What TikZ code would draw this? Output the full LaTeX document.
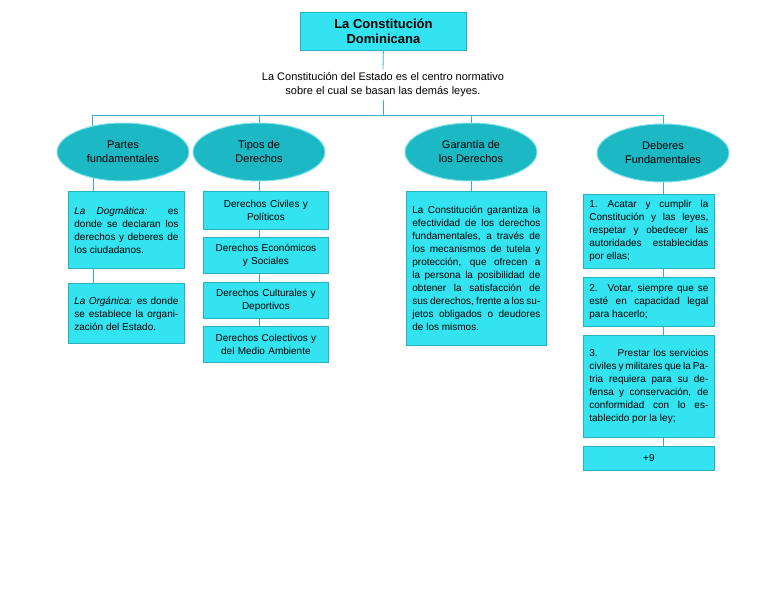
\documentclass[tikz,border=0pt]{standalone}
\usepackage{fontspec}
\setmainfont{Liberation Sans}
\begin{document}
\begin{tikzpicture}[x=1pt,y=-1pt,
  ln/.style={draw=lnc,line width=0.8pt},
  ell/.style={ellipse,fill=ellc,draw=ellb,line width=1pt,minimum width=132pt,minimum height=58pt,align=center,font=\fontsize{11}{14}\selectfont,inner sep=0pt},
  bx/.style={rectangle,fill=boxc,draw=boxb,line width=0.8pt,anchor=north west,inner sep=6pt,font=\fontsize{10}{13}\selectfont},
  bj/.style={bx,align=justify},
  bc/.style={bx,align=center}]
\definecolor{ellc}{HTML}{1CB8C4}
\definecolor{ellb}{HTML}{7FE3EA}
\definecolor{boxc}{HTML}{33E3EF}
\definecolor{boxb}{HTML}{2AAFBF}
\definecolor{lnc}{HTML}{33B5C0}
\usetikzlibrary{shapes.geometric}
\useasboundingbox (0,0) rectangle (768,594);
\fill[white] (0,0) rectangle (768,594);
\node[bc,minimum width=166pt,minimum height=38pt,font=\bfseries\fontsize{13}{15}\selectfont,inner sep=2pt] (t) at (300,12) {La Constitución\\Dominicana};
\node[align=center,font=\fontsize{11}{14}\selectfont] (d) at (383,85) {La Constitución del Estado es el centro normativo\\sobre el cual se basan las demás leyes.};
\draw[ln] (t.south) -- (d.north);
\coordinate (h1) at (92,115); \coordinate (h2) at (259,115); \coordinate (h3) at (471,115); \coordinate (h4) at (663,115);
\draw[ln] (h1) -- (h4);
\draw[ln] (383,100) -- (383,115);
\draw[ln] (h1) -- (92,135); \draw[ln] (h2) -- (259,130); \draw[ln] (h3) -- (471,130); \draw[ln] (h4) -- (663,130);
\draw[ln] (93,170) -- (93,290); \draw[ln] (259,170) -- (259,330); \draw[ln] (471,170) -- (471,195); \draw[ln] (663,170) -- (663,450);
\node[ell] (e1) at (123,152) {Partes\\fundamentales};
\node[ell] (e2) at (259,152) {Tipos de\\Derechos};
\node[ell] (e3) at (471,152) {Garantía de\\los Derechos};
\node[ell] (e4) at (663,153) {Deberes\\Fundamentales};
\node[bj,text width=104pt,minimum height=77pt] (a1) at (68,191) {\textit{La Dogmática:} es donde se declaran los derechos y deberes de los ciudadanos.};
\node[bj,text width=104pt,minimum height=60pt] (a2) at (68,283) {\textit{La Orgánica:} es donde se establece la organización del Estado.};
\node[bc,text width=113pt,minimum height=38pt] (b1) at (203,191) {Derechos Civiles y\\Políticos};
\node[bc,text width=113pt,minimum height=36pt] (b2) at (203,237) {Derechos Económicos\\y Sociales};
\node[bc,text width=113pt,minimum height=36pt] (b3) at (203,282) {Derechos Culturales y\\Deportivos};
\node[bc,text width=113pt,minimum height=36pt] (b4) at (203,326) {Derechos Colectivos y\\del Medio Ambiente};
\node[bj,text width=128pt,minimum height=154pt,inner sep=6pt] (c1) at (406,191) {La Constitución garantiza la efectividad de los derechos fundamentales, a través de los mecanismos de tutela y protección, que ofrecen a la persona la posibilidad de obtener la satisfacción de sus derechos, frente a los sujetos obligados o deudores de los mismos.};
\node[bj,text width=119pt,minimum height=74pt] (f1) at (583,194) {1.\quad Acatar y cumplir la Constitución y las leyes, respetar y obedecer las autoridades establecidas por ellas;};
\node[bj,text width=119pt,minimum height=49pt] (f2) at (583,277) {2.\quad Votar, siempre que se esté en capacidad legal para hacerlo;};
\node[bj,text width=119pt,minimum height=102pt] (f3) at (583,335) {3.\qquad Prestar los servicios civiles y militares que la Patria requiera para su defensa y conservación, de conformidad con lo establecido por la ley;};
\node[bc,text width=119pt,minimum height=24pt,inner sep=6pt] (f4) at (583,446) {+9};
\end{tikzpicture}
\end{document}
